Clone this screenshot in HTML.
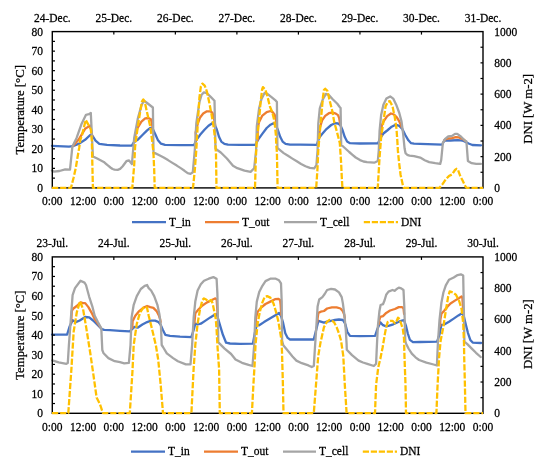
<!DOCTYPE html>
<html><head><meta charset="utf-8"><style>
html,body{margin:0;padding:0;background:#fff;overflow:hidden;}
svg{display:block;}
text{font-family:'Liberation Serif','Times New Roman',serif;font-size:11.5px;fill:#000;stroke:#000;stroke-width:0.25px;}
</style></head><body>
<svg width="550" height="475" viewBox="0 0 550 475">
<rect width="550" height="475" fill="#fff"/>
<polyline points="52.0,145.8 69.0,146.6 72.8,146.2 78.5,143.9 85.1,139.8 90.2,135.0 92.7,136.0 95.5,140.7 99.3,143.9 107.0,144.9 120.0,145.5 131.8,145.6 133.8,142.4 137.6,139.9 142.7,134.8 147.1,130.4 150.3,127.9 152.8,129.1 155.3,134.2 157.8,139.9 161.0,143.7 165.0,144.9 180.0,145.2 194.1,145.0 196.3,140.1 200.1,134.8 204.7,129.5 208.5,125.7 212.2,123.2 214.5,124.2 216.8,129.5 219.1,137.1 221.3,141.6 224.4,143.9 228.0,144.7 240.0,144.9 255.3,144.9 258.3,139.4 262.1,134.1 266.7,128.0 270.5,124.7 273.5,123.2 275.8,125.0 278.0,130.3 280.3,137.1 282.6,141.6 285.6,143.9 290.0,144.6 300.0,144.6 316.8,144.9 319.1,137.8 322.1,134.1 326.7,128.8 331.2,125.0 335.0,123.2 338.0,123.5 340.3,125.0 342.6,130.3 344.8,137.1 347.1,141.6 350.0,143.2 360.0,143.5 378.1,143.3 380.3,138.0 383.4,133.5 387.2,130.5 391.7,126.7 395.5,124.7 399.3,125.9 402.3,128.9 405.3,135.0 408.4,140.3 411.1,143.2 414.0,143.6 420.2,143.8 442.1,144.7 444.4,140.5 450.5,140.5 458.0,140.2 462.6,140.7 464.1,141.2 468.6,143.5 472.4,145.0 481.0,145.3" fill="none" stroke="#4472C4" stroke-width="2.3" stroke-linejoin="round" stroke-linecap="round"/>
<polyline points="72.8,146.2 78.5,139.8 85.1,128.8 90.2,125.6 91.5,131.0 92.3,137.0" fill="none" stroke="#ED7D31" stroke-width="2.3" stroke-linejoin="round" stroke-linecap="round"/>
<polyline points="134.6,141.5 135.7,132.9 137.6,127.9 141.4,121.6 145.2,118.4 148.4,118.0 150.9,119.3 152.0,124.0 152.8,129.0" fill="none" stroke="#ED7D31" stroke-width="2.3" stroke-linejoin="round" stroke-linecap="round"/>
<polyline points="196.3,140.1 195.6,132.5 197.8,123.5 200.1,117.4 203.2,113.6 206.9,111.3 210.0,111.3 212.2,112.5 213.5,115.9 214.5,121.0 215.2,125.0" fill="none" stroke="#ED7D31" stroke-width="2.3" stroke-linejoin="round" stroke-linecap="round"/>
<polyline points="257.8,140.0 257.6,128.0 259.1,121.9 262.1,115.9 266.7,112.1 270.5,111.0 272.7,112.1 274.5,114.4 275.8,118.9 276.6,125.0" fill="none" stroke="#ED7D31" stroke-width="2.3" stroke-linejoin="round" stroke-linecap="round"/>
<polyline points="319.3,137.0 319.8,128.0 322.1,120.4 325.2,115.9 328.9,113.2 332.7,112.5 335.8,113.6 338.0,115.1 339.2,118.2 340.2,124.0" fill="none" stroke="#ED7D31" stroke-width="2.3" stroke-linejoin="round" stroke-linecap="round"/>
<polyline points="380.8,137.0 381.8,125.2 384.1,120.6 387.2,116.1 390.9,113.5 394.0,114.5 397.0,117.6 399.3,121.4 400.8,124.7 401.6,127.0" fill="none" stroke="#ED7D31" stroke-width="2.3" stroke-linejoin="round" stroke-linecap="round"/>
<polyline points="444.4,140.5 444.6,139.7 447.4,138.5 452.0,138.2 455.8,137.1 458.8,137.4 462.6,138.9 464.8,140.5" fill="none" stroke="#ED7D31" stroke-width="2.3" stroke-linejoin="round" stroke-linecap="round"/>
<polyline points="52.0,170.5 53.8,171.6 59.5,171.0 65.2,169.3 70.0,169.7 72.4,146.4 76.6,137.9 81.3,124.6 86.0,114.8 88.9,114.2 90.8,112.9 92.9,156.4 97.2,158.6 100.5,160.2 103.8,161.9 106.0,163.8 108.2,165.7 110.4,167.5 112.6,169.0 114.5,169.6 117.7,169.8 120.1,168.9 122.5,166.5 124.9,163.2 126.8,160.8 129.1,160.5 130.5,162.2 131.9,164.0 134.2,138.0 137.8,118.6 141.5,105.3 143.9,100.7 145.8,102.0 152.9,107.5 153.5,153.5 155.0,153.1 159.4,155.2 163.7,157.5 168.0,160.1 172.4,162.9 176.8,165.6 181.1,168.4 184.5,170.8 187.7,173.2 190.5,173.9 192.8,172.3 194.8,150.0 196.3,123.5 199.4,102.2 201.6,94.7 203.9,92.4 206.9,93.2 210.7,96.9 214.5,100.7 215.5,148.8 220.8,152.5 226.9,158.5 233.0,165.8 237.3,168.2 244.5,170.6 250.6,171.9 254.2,168.2 256.1,150.0 256.8,126.5 259.1,108.3 261.4,99.2 264.4,93.2 267.4,93.9 271.2,96.9 275.8,100.7 276.9,102.0 277.4,147.6 278.2,148.7 283.7,153.1 288.0,155.8 292.4,158.6 296.8,161.3 301.1,164.0 305.5,166.2 309.9,167.9 314.2,168.4 316.4,165.1 317.6,150.0 318.3,123.5 319.8,108.3 322.9,99.2 325.9,93.9 328.9,95.0 332.7,99.2 337.3,103.8 339.5,106.8 340.6,108.0 341.2,145.2 342.6,146.0 345.9,149.0 349.2,152.0 352.5,154.8 355.7,157.5 360.0,160.1 363.5,161.5 367.0,162.2 374.2,162.7 377.8,161.0 378.8,150.0 379.6,130.5 381.1,115.3 383.4,104.7 386.4,98.6 390.2,96.4 393.2,98.6 396.2,104.7 399.3,113.0 401.5,121.4 403.1,133.5 404.6,148.6 405.5,153.1 407.2,154.8 409.5,155.6 414.1,156.1 420.2,157.6 424.7,160.2 429.2,162.1 435.3,163.2 440.2,163.9 441.2,160.0 442.9,142.7 445.2,138.9 448.2,136.4 452.0,135.9 455.0,133.9 457.3,133.9 461.1,136.7 464.8,140.5 466.4,141.2 467.9,160.9 471.7,163.2 476.2,163.9 480.9,163.9" fill="none" stroke="#A5A5A5" stroke-width="2.3" stroke-linejoin="round" stroke-linecap="round"/>
<rect x="52.3" y="31.6" width="430.7" height="156.3" fill="none" stroke="#000" stroke-width="1.4"/>
<line x1="52.3" y1="178.13" x2="55.0" y2="178.13" stroke="#000" stroke-width="1.2"/>
<line x1="52.3" y1="168.36" x2="55.0" y2="168.36" stroke="#000" stroke-width="1.2"/>
<line x1="52.3" y1="158.59" x2="55.0" y2="158.59" stroke="#000" stroke-width="1.2"/>
<line x1="52.3" y1="148.82" x2="55.0" y2="148.82" stroke="#000" stroke-width="1.2"/>
<line x1="52.3" y1="139.06" x2="55.0" y2="139.06" stroke="#000" stroke-width="1.2"/>
<line x1="52.3" y1="129.29" x2="55.0" y2="129.29" stroke="#000" stroke-width="1.2"/>
<line x1="52.3" y1="119.52" x2="55.0" y2="119.52" stroke="#000" stroke-width="1.2"/>
<line x1="52.3" y1="109.75" x2="55.0" y2="109.75" stroke="#000" stroke-width="1.2"/>
<line x1="52.3" y1="99.98" x2="55.0" y2="99.98" stroke="#000" stroke-width="1.2"/>
<line x1="52.3" y1="90.21" x2="55.0" y2="90.21" stroke="#000" stroke-width="1.2"/>
<line x1="52.3" y1="80.44" x2="55.0" y2="80.44" stroke="#000" stroke-width="1.2"/>
<line x1="52.3" y1="70.67" x2="55.0" y2="70.67" stroke="#000" stroke-width="1.2"/>
<line x1="52.3" y1="60.91" x2="55.0" y2="60.91" stroke="#000" stroke-width="1.2"/>
<line x1="52.3" y1="51.14" x2="55.0" y2="51.14" stroke="#000" stroke-width="1.2"/>
<line x1="52.3" y1="41.37" x2="55.0" y2="41.37" stroke="#000" stroke-width="1.2"/>
<line x1="483" y1="172.27" x2="480.5" y2="172.27" stroke="#000" stroke-width="1.2"/>
<line x1="483" y1="156.64" x2="480.5" y2="156.64" stroke="#000" stroke-width="1.2"/>
<line x1="483" y1="141.01" x2="480.5" y2="141.01" stroke="#000" stroke-width="1.2"/>
<line x1="483" y1="125.38" x2="480.5" y2="125.38" stroke="#000" stroke-width="1.2"/>
<line x1="483" y1="109.75" x2="480.5" y2="109.75" stroke="#000" stroke-width="1.2"/>
<line x1="483" y1="94.12" x2="480.5" y2="94.12" stroke="#000" stroke-width="1.2"/>
<line x1="483" y1="78.49" x2="480.5" y2="78.49" stroke="#000" stroke-width="1.2"/>
<line x1="483" y1="62.86" x2="480.5" y2="62.86" stroke="#000" stroke-width="1.2"/>
<line x1="483" y1="47.23" x2="480.5" y2="47.23" stroke="#000" stroke-width="1.2"/>
<line x1="113.83" y1="31.6" x2="113.83" y2="34.6" stroke="#000" stroke-width="1.2"/>
<line x1="175.36" y1="31.6" x2="175.36" y2="34.6" stroke="#000" stroke-width="1.2"/>
<line x1="236.89" y1="31.6" x2="236.89" y2="34.6" stroke="#000" stroke-width="1.2"/>
<line x1="298.41" y1="31.6" x2="298.41" y2="34.6" stroke="#000" stroke-width="1.2"/>
<line x1="359.94" y1="31.6" x2="359.94" y2="34.6" stroke="#000" stroke-width="1.2"/>
<line x1="421.47" y1="31.6" x2="421.47" y2="34.6" stroke="#000" stroke-width="1.2"/>
<polyline points="52.0,187.8 71.0,187.8 73.7,177.2 75.9,167.4 77.5,157.5 79.2,147.7 80.3,140.0 82.3,134.1 85.7,119.9 88.9,125.6 90.8,129.4 91.8,140.0 92.3,161.9 92.9,187.8 132.3,187.8 134.2,165.0 135.1,146.8 137.6,127.9 140.2,111.5 142.0,101.4 143.3,99.5 144.6,101.4 147.7,115.3 150.3,126.6 152.1,140.5 153.4,152.0 154.2,170.0 154.7,187.8 193.0,187.8 194.8,170.0 196.3,150.0 197.8,123.5 199.4,97.7 200.9,86.3 202.4,83.6 204.7,85.6 206.9,91.6 209.2,102.2 211.5,114.4 213.8,128.0 215.3,141.6 216.0,155.0 216.5,187.8 255.0,187.8 255.8,159.1 256.6,143.0 258.3,128.0 260.6,102.2 262.1,89.4 262.9,87.2 265.2,89.4 267.4,96.2 270.0,106.8 272.1,111.7 273.8,118.4 275.1,126.8 275.9,135.3 276.3,145.4 276.9,151.8 277.6,187.8 316.2,187.8 317.4,170.0 318.3,150.0 319.8,132.5 321.4,114.4 322.9,97.7 323.9,90.1 325.2,88.7 327.4,90.9 329.7,100.7 332.0,109.8 334.2,121.9 336.7,131.0 338.5,138.0 339.8,143.0 341.1,162.6 341.7,175.6 342.4,187.8 377.8,187.8 378.8,170.0 379.6,157.0 381.1,138.0 383.4,121.4 385.6,106.2 387.9,101.7 389.9,101.2 392.5,106.2 394.7,116.8 396.5,128.9 397.4,141.8 397.9,150.9 399.0,161.9 400.6,175.0 402.8,184.9 403.9,187.8 439.5,187.8 442.9,183.6 445.9,179.1 448.9,176.1 452.0,174.5 455.0,170.0 456.5,168.8 458.0,170.0 460.3,176.1 462.6,180.6 465.6,186.7 466.6,187.8 483.0,187.8" fill="none" stroke="#FFC000" stroke-width="2.3" stroke-dasharray="6.2 1.9" stroke-linejoin="round"/>
<text text-anchor="end" transform="translate(43,191.90) scale(1,1.05)">0</text>
<text text-anchor="end" transform="translate(43,172.36) scale(1,1.05)">10</text>
<text text-anchor="end" transform="translate(43,152.82) scale(1,1.05)">20</text>
<text text-anchor="end" transform="translate(43,133.29) scale(1,1.05)">30</text>
<text text-anchor="end" transform="translate(43,113.75) scale(1,1.05)">40</text>
<text text-anchor="end" transform="translate(43,94.21) scale(1,1.05)">50</text>
<text text-anchor="end" transform="translate(43,74.67) scale(1,1.05)">60</text>
<text text-anchor="end" transform="translate(43,55.14) scale(1,1.05)">70</text>
<text text-anchor="end" transform="translate(43,35.60) scale(1,1.05)">80</text>
<text transform="translate(494.2,191.90) scale(1,1.05)">0</text>
<text transform="translate(494.2,160.64) scale(1,1.05)">200</text>
<text transform="translate(494.2,129.38) scale(1,1.05)">400</text>
<text transform="translate(494.2,98.12) scale(1,1.05)">600</text>
<text transform="translate(494.2,66.86) scale(1,1.05)">800</text>
<text transform="translate(494.2,35.60) scale(1,1.05)">1000</text>
<text text-anchor="middle" transform="translate(52.30,204.60) scale(1,1.05)">0:00</text>
<text text-anchor="middle" transform="translate(83.06,204.60) scale(1,1.05)">12:00</text>
<text text-anchor="middle" transform="translate(113.83,204.60) scale(1,1.05)">0:00</text>
<text text-anchor="middle" transform="translate(144.59,204.60) scale(1,1.05)">12:00</text>
<text text-anchor="middle" transform="translate(175.36,204.60) scale(1,1.05)">0:00</text>
<text text-anchor="middle" transform="translate(206.12,204.60) scale(1,1.05)">12:00</text>
<text text-anchor="middle" transform="translate(236.89,204.60) scale(1,1.05)">0:00</text>
<text text-anchor="middle" transform="translate(267.65,204.60) scale(1,1.05)">12:00</text>
<text text-anchor="middle" transform="translate(298.41,204.60) scale(1,1.05)">0:00</text>
<text text-anchor="middle" transform="translate(329.18,204.60) scale(1,1.05)">12:00</text>
<text text-anchor="middle" transform="translate(359.94,204.60) scale(1,1.05)">0:00</text>
<text text-anchor="middle" transform="translate(390.71,204.60) scale(1,1.05)">12:00</text>
<text text-anchor="middle" transform="translate(421.47,204.60) scale(1,1.05)">0:00</text>
<text text-anchor="middle" transform="translate(452.24,204.60) scale(1,1.05)">12:00</text>
<text text-anchor="middle" transform="translate(483.00,204.60) scale(1,1.05)">0:00</text>
<text text-anchor="middle" transform="translate(52.30,21.80) scale(1,1.05)">24-Dec.</text>
<text text-anchor="middle" transform="translate(113.83,21.80) scale(1,1.05)">25-Dec.</text>
<text text-anchor="middle" transform="translate(175.36,21.80) scale(1,1.05)">26-Dec.</text>
<text text-anchor="middle" transform="translate(236.89,21.80) scale(1,1.05)">27-Dec.</text>
<text text-anchor="middle" transform="translate(298.41,21.80) scale(1,1.05)">28-Dec.</text>
<text text-anchor="middle" transform="translate(359.94,21.80) scale(1,1.05)">29-Dec.</text>
<text text-anchor="middle" transform="translate(421.47,21.80) scale(1,1.05)">30-Dec.</text>
<text text-anchor="middle" transform="translate(483.00,21.80) scale(1,1.05)">31-Dec.</text>
<text style="font-size:12.5px" transform="translate(23.9,154.50) rotate(-90) scale(1.02,1)">Temperature [°C]</text>
<text style="font-size:12.5px" transform="translate(532.0,143.70) rotate(-90) scale(1.02,1)">DNI [W m-2]</text>
<line x1="132" y1="222.20" x2="166" y2="222.20" stroke="#4472C4" stroke-width="2.3"/>
<text transform="translate(169,226.00) scale(1,1.05)">T_in</text>
<line x1="205" y1="222.20" x2="239" y2="222.20" stroke="#ED7D31" stroke-width="2.3"/>
<text transform="translate(242,226.00) scale(1,1.05)">T_out</text>
<line x1="284" y1="222.20" x2="317" y2="222.20" stroke="#A5A5A5" stroke-width="2.3"/>
<text transform="translate(320,226.00) scale(1,1.05)">T_cell</text>
<line x1="363.8" y1="222.20" x2="398" y2="222.20" stroke="#FFC000" stroke-width="2.3" stroke-dasharray="6.2 1.8"/>
<text transform="translate(401,226.00) scale(1,1.05)">DNI</text>
<polyline points="52.0,334.6 67.1,334.7 69.5,326.8 72.6,320.2 75.8,322.1 79.7,320.5 85.2,317.0 89.2,317.3 93.1,320.5 97.9,325.2 101.8,329.1 104.2,329.9 110.0,330.2 120.0,330.8 129.7,331.3 132.1,329.2 134.5,326.9 137.6,327.7 142.4,324.5 147.1,322.1 151.1,320.6 155.0,320.6 158.2,321.8 160.5,324.5 162.9,330.0 165.3,334.8 170.0,335.8 180.0,336.6 191.3,337.1 193.7,330.0 195.3,323.7 197.6,324.5 200.8,323.7 205.5,320.6 210.3,317.4 214.2,315.0 216.6,314.2 218.2,319.0 220.5,326.9 222.9,334.8 226.1,342.7 230.0,343.5 240.0,343.9 252.9,343.7 254.8,333.2 256.8,324.5 259.2,325.3 264.0,322.1 270.3,318.2 275.8,315.0 279.0,313.0 281.0,315.8 282.9,322.1 285.3,333.2 287.7,337.9 290.0,339.5 300.0,339.5 313.7,339.5 315.7,331.9 318.4,320.8 320.8,321.6 324.0,322.7 327.1,321.6 331.1,320.8 335.0,320.0 339.0,319.5 342.9,320.0 345.3,324.0 347.3,331.9 350.0,335.8 360.0,336.2 375.1,335.8 377.5,328.7 380.3,322.4 383.0,325.2 386.2,326.3 389.3,325.6 393.3,324.3 397.2,322.4 401.2,320.8 404.0,320.0 405.9,325.6 407.8,333.5 409.9,339.8 413.0,342.1 420.0,342.0 437.1,341.6 439.5,334.4 441.4,324.9 444.2,324.6 449.0,321.7 453.7,318.6 458.4,315.4 462.4,313.0 464.0,317.0 465.5,323.3 467.9,332.8 470.3,339.9 472.7,342.6 481.1,343.0" fill="none" stroke="#4472C4" stroke-width="2.3" stroke-linejoin="round" stroke-linecap="round"/>
<polyline points="71.2,322.0 71.8,311.0 73.4,308.5 77.4,305.5 80.5,302.3 82.9,303.1 85.2,303.1 88.4,307.1 91.5,312.6 94.7,318.9 97.9,323.6 100.2,326.8" fill="none" stroke="#ED7D31" stroke-width="2.3" stroke-linejoin="round" stroke-linecap="round"/>
<polyline points="132.3,328.0 132.6,321.3 135.3,315.8 139.2,311.1 143.2,307.9 147.1,306.0 150.3,307.1 153.4,307.9 156.6,311.1 159.0,315.8 160.1,319.0 160.6,322.0" fill="none" stroke="#ED7D31" stroke-width="2.3" stroke-linejoin="round" stroke-linecap="round"/>
<polyline points="194.3,323.0 194.5,322.1 195.3,313.4 198.4,309.5 202.4,305.5 207.1,302.4 211.9,300.0 215.0,298.4 216.6,299.2 217.1,306.3 217.6,314.0" fill="none" stroke="#ED7D31" stroke-width="2.3" stroke-linejoin="round" stroke-linecap="round"/>
<polyline points="255.6,325.0 256.1,317.4 257.6,311.9 260.8,307.9 265.5,304.0 270.3,301.6 275.0,299.2 278.2,298.8 280.1,300.0 280.7,305.5 281.0,311.1 281.2,315.0" fill="none" stroke="#ED7D31" stroke-width="2.3" stroke-linejoin="round" stroke-linecap="round"/>
<polyline points="317.3,322.0 317.6,318.4 318.4,312.9 320.8,311.7 324.0,311.0 327.1,308.5 331.9,307.4 336.6,307.4 340.5,308.5 342.9,311.3 344.2,314.5 344.8,318.0" fill="none" stroke="#ED7D31" stroke-width="2.3" stroke-linejoin="round" stroke-linecap="round"/>
<polyline points="378.9,324.0 379.1,320.8 380.3,316.9 383.0,316.1 386.2,312.9 390.1,310.5 394.9,309.0 398.8,307.1 402.0,307.1 403.5,308.2 404.1,314.0" fill="none" stroke="#ED7D31" stroke-width="2.3" stroke-linejoin="round" stroke-linecap="round"/>
<polyline points="440.1,326.0 440.3,320.1 441.4,313.8 444.2,310.7 447.4,306.7 450.5,303.5 455.3,300.4 459.2,298.0 461.6,296.4 462.4,298.0 462.9,305.9 463.2,312.0" fill="none" stroke="#ED7D31" stroke-width="2.3" stroke-linejoin="round" stroke-linecap="round"/>
<polyline points="52.3,360.4 58.7,362.3 66.4,363.8 67.8,363.0 68.9,345.0 72.6,295.2 75.0,288.1 80.5,280.7 84.5,282.6 86.0,285.0 89.2,296.8 92.3,306.3 94.7,315.7 97.9,322.1 101.3,328.4 102.3,350.0 103.6,353.3 108.4,358.1 114.7,361.2 120.0,362.2 124.2,363.4 128.9,362.8 130.5,345.0 131.6,317.4 133.7,304.8 136.8,296.1 140.8,289.0 144.7,285.8 147.1,285.0 148.7,288.2 151.1,290.5 154.2,296.1 157.4,304.8 159.4,314.2 161.0,326.9 161.7,345.0 163.0,347.0 166.8,353.3 173.1,358.1 177.9,361.2 185.8,364.4 190.5,364.4 192.1,345.0 193.7,317.4 195.3,301.6 197.6,290.5 200.8,284.2 204.0,280.7 208.7,278.7 213.4,277.1 216.6,278.7 217.4,293.7 218.3,342.3 219.1,343.1 224.6,348.6 231.1,354.0 235.5,359.5 242.0,362.8 248.6,364.9 252.5,366.0 254.2,345.0 255.3,317.4 256.8,301.6 259.2,292.1 262.4,285.8 265.5,281.1 270.3,278.7 275.8,278.7 279.0,280.3 281.0,283.4 281.7,301.6 282.1,340.7 283.3,345.3 288.7,351.8 292.5,356.5 296.4,360.6 301.8,363.2 308.4,365.4 311.7,367.1 313.8,366.0 314.8,350.0 316.1,330.3 317.6,306.6 319.2,299.5 322.4,297.1 324.7,294.0 327.1,290.0 331.1,288.9 335.0,289.5 339.0,292.4 341.7,297.1 342.9,303.4 344.5,316.1 345.8,330.3 346.6,343.9 346.8,349.7 352.0,355.1 358.6,360.6 363.0,362.5 367.3,363.8 373.9,366.0 376.1,363.8 376.7,350.0 377.8,327.1 379.4,311.3 380.6,305.0 383.0,304.2 384.6,300.3 386.2,294.7 388.5,291.6 392.5,290.0 394.9,290.8 396.4,289.2 398.8,287.6 401.2,288.4 403.5,290.0 404.3,306.6 405.3,340.7 406.0,343.6 408.5,348.5 411.8,353.6 415.5,357.3 419.1,360.0 426.4,362.7 433.6,364.5 436.9,365.5 437.9,343.0 439.5,320.1 441.4,302.8 443.4,292.5 445.8,285.4 449.0,279.8 453.7,277.5 457.6,275.1 460.8,274.3 463.2,275.6 463.5,291.7 464.4,341.5 467.6,344.4 471.8,348.6 476.0,352.8 480.7,357.0" fill="none" stroke="#A5A5A5" stroke-width="2.3" stroke-linejoin="round" stroke-linecap="round"/>
<rect x="52.3" y="256.9" width="430.7" height="156.40000000000003" fill="none" stroke="#000" stroke-width="1.4"/>
<line x1="52.3" y1="403.53" x2="55.0" y2="403.53" stroke="#000" stroke-width="1.2"/>
<line x1="52.3" y1="393.75" x2="55.0" y2="393.75" stroke="#000" stroke-width="1.2"/>
<line x1="52.3" y1="383.98" x2="55.0" y2="383.98" stroke="#000" stroke-width="1.2"/>
<line x1="52.3" y1="374.20" x2="55.0" y2="374.20" stroke="#000" stroke-width="1.2"/>
<line x1="52.3" y1="364.43" x2="55.0" y2="364.43" stroke="#000" stroke-width="1.2"/>
<line x1="52.3" y1="354.65" x2="55.0" y2="354.65" stroke="#000" stroke-width="1.2"/>
<line x1="52.3" y1="344.88" x2="55.0" y2="344.88" stroke="#000" stroke-width="1.2"/>
<line x1="52.3" y1="335.10" x2="55.0" y2="335.10" stroke="#000" stroke-width="1.2"/>
<line x1="52.3" y1="325.32" x2="55.0" y2="325.32" stroke="#000" stroke-width="1.2"/>
<line x1="52.3" y1="315.55" x2="55.0" y2="315.55" stroke="#000" stroke-width="1.2"/>
<line x1="52.3" y1="305.77" x2="55.0" y2="305.77" stroke="#000" stroke-width="1.2"/>
<line x1="52.3" y1="296.00" x2="55.0" y2="296.00" stroke="#000" stroke-width="1.2"/>
<line x1="52.3" y1="286.22" x2="55.0" y2="286.22" stroke="#000" stroke-width="1.2"/>
<line x1="52.3" y1="276.45" x2="55.0" y2="276.45" stroke="#000" stroke-width="1.2"/>
<line x1="52.3" y1="266.67" x2="55.0" y2="266.67" stroke="#000" stroke-width="1.2"/>
<line x1="483" y1="397.66" x2="480.5" y2="397.66" stroke="#000" stroke-width="1.2"/>
<line x1="483" y1="382.02" x2="480.5" y2="382.02" stroke="#000" stroke-width="1.2"/>
<line x1="483" y1="366.38" x2="480.5" y2="366.38" stroke="#000" stroke-width="1.2"/>
<line x1="483" y1="350.74" x2="480.5" y2="350.74" stroke="#000" stroke-width="1.2"/>
<line x1="483" y1="335.10" x2="480.5" y2="335.10" stroke="#000" stroke-width="1.2"/>
<line x1="483" y1="319.46" x2="480.5" y2="319.46" stroke="#000" stroke-width="1.2"/>
<line x1="483" y1="303.82" x2="480.5" y2="303.82" stroke="#000" stroke-width="1.2"/>
<line x1="483" y1="288.18" x2="480.5" y2="288.18" stroke="#000" stroke-width="1.2"/>
<line x1="483" y1="272.54" x2="480.5" y2="272.54" stroke="#000" stroke-width="1.2"/>
<line x1="113.83" y1="256.9" x2="113.83" y2="259.9" stroke="#000" stroke-width="1.2"/>
<line x1="175.36" y1="256.9" x2="175.36" y2="259.9" stroke="#000" stroke-width="1.2"/>
<line x1="236.89" y1="256.9" x2="236.89" y2="259.9" stroke="#000" stroke-width="1.2"/>
<line x1="298.41" y1="256.9" x2="298.41" y2="259.9" stroke="#000" stroke-width="1.2"/>
<line x1="359.94" y1="256.9" x2="359.94" y2="259.9" stroke="#000" stroke-width="1.2"/>
<line x1="421.47" y1="256.9" x2="421.47" y2="259.9" stroke="#000" stroke-width="1.2"/>
<polyline points="52.0,413.2 68.3,413.2 71.4,369.1 73.7,331.2 76.8,312.3 80.0,301.3 83.1,309.2 86.3,328.1 90.3,353.3 93.5,375.4 96.6,397.5 99.8,403.8 103.0,413.2 129.8,413.2 132.4,372.3 133.7,345.0 136.8,323.7 140.0,312.7 143.2,307.9 145.2,306.5 147.1,307.9 148.7,315.8 151.1,325.3 153.4,334.8 155.8,345.0 158.2,359.6 160.7,384.9 163.0,413.2 191.4,413.2 193.6,369.1 195.3,345.0 197.6,323.7 200.0,309.5 202.4,300.0 204.0,298.4 205.5,299.2 208.7,301.6 211.1,300.0 212.6,303.2 214.2,311.1 215.8,319.0 216.6,330.0 217.4,345.0 219.1,369.1 219.8,413.2 251.9,413.2 253.4,384.6 254.6,365.0 255.5,345.0 257.6,323.7 260.0,311.1 262.4,302.4 264.7,296.9 267.1,296.1 270.3,297.6 273.4,303.2 275.8,311.1 278.2,320.6 280.1,331.6 281.4,340.0 282.0,351.8 282.9,384.6 283.5,413.2 313.8,413.2 316.0,384.6 318.2,356.2 320.4,343.1 322.2,335.0 324.0,327.1 327.1,321.6 329.5,320.0 331.9,320.5 334.2,322.4 336.6,327.1 339.0,333.5 341.1,340.9 343.3,356.2 344.8,384.6 346.6,413.2 375.0,413.2 376.1,384.6 378.3,367.1 380.4,358.4 382.6,347.5 384.8,334.4 386.2,327.1 387.7,322.1 390.1,320.8 392.5,320.8 394.9,323.2 396.4,321.6 398.0,317.7 399.6,319.2 401.2,324.0 402.8,328.7 404.0,338.2 404.5,357.3 405.5,384.5 406.0,413.2 436.4,413.2 437.6,384.5 439.1,357.3 440.6,341.0 443.4,326.5 445.8,310.7 448.2,296.4 449.7,291.4 452.9,292.5 456.1,294.9 459.2,301.2 461.6,309.1 463.2,323.3 464.0,343.0 464.2,357.3 464.9,384.5 465.5,413.2 483.0,413.2" fill="none" stroke="#FFC000" stroke-width="2.3" stroke-dasharray="6.2 1.9" stroke-linejoin="round"/>
<text text-anchor="end" transform="translate(43,417.30) scale(1,1.05)">0</text>
<text text-anchor="end" transform="translate(43,397.75) scale(1,1.05)">10</text>
<text text-anchor="end" transform="translate(43,378.20) scale(1,1.05)">20</text>
<text text-anchor="end" transform="translate(43,358.65) scale(1,1.05)">30</text>
<text text-anchor="end" transform="translate(43,339.10) scale(1,1.05)">40</text>
<text text-anchor="end" transform="translate(43,319.55) scale(1,1.05)">50</text>
<text text-anchor="end" transform="translate(43,300.00) scale(1,1.05)">60</text>
<text text-anchor="end" transform="translate(43,280.45) scale(1,1.05)">70</text>
<text text-anchor="end" transform="translate(43,260.90) scale(1,1.05)">80</text>
<text transform="translate(494.2,417.30) scale(1,1.05)">0</text>
<text transform="translate(494.2,386.02) scale(1,1.05)">200</text>
<text transform="translate(494.2,354.74) scale(1,1.05)">400</text>
<text transform="translate(494.2,323.46) scale(1,1.05)">600</text>
<text transform="translate(494.2,292.18) scale(1,1.05)">800</text>
<text transform="translate(494.2,260.90) scale(1,1.05)">1000</text>
<text text-anchor="middle" transform="translate(52.30,430.80) scale(1,1.05)">0:00</text>
<text text-anchor="middle" transform="translate(83.06,430.80) scale(1,1.05)">12:00</text>
<text text-anchor="middle" transform="translate(113.83,430.80) scale(1,1.05)">0:00</text>
<text text-anchor="middle" transform="translate(144.59,430.80) scale(1,1.05)">12:00</text>
<text text-anchor="middle" transform="translate(175.36,430.80) scale(1,1.05)">0:00</text>
<text text-anchor="middle" transform="translate(206.12,430.80) scale(1,1.05)">12:00</text>
<text text-anchor="middle" transform="translate(236.89,430.80) scale(1,1.05)">0:00</text>
<text text-anchor="middle" transform="translate(267.65,430.80) scale(1,1.05)">12:00</text>
<text text-anchor="middle" transform="translate(298.41,430.80) scale(1,1.05)">0:00</text>
<text text-anchor="middle" transform="translate(329.18,430.80) scale(1,1.05)">12:00</text>
<text text-anchor="middle" transform="translate(359.94,430.80) scale(1,1.05)">0:00</text>
<text text-anchor="middle" transform="translate(390.71,430.80) scale(1,1.05)">12:00</text>
<text text-anchor="middle" transform="translate(421.47,430.80) scale(1,1.05)">0:00</text>
<text text-anchor="middle" transform="translate(452.24,430.80) scale(1,1.05)">12:00</text>
<text text-anchor="middle" transform="translate(483.00,430.80) scale(1,1.05)">0:00</text>
<text text-anchor="middle" transform="translate(52.30,246.90) scale(1,1.05)">23-Jul.</text>
<text text-anchor="middle" transform="translate(113.83,246.90) scale(1,1.05)">24-Jul.</text>
<text text-anchor="middle" transform="translate(175.36,246.90) scale(1,1.05)">25-Jul.</text>
<text text-anchor="middle" transform="translate(236.89,246.90) scale(1,1.05)">26-Jul.</text>
<text text-anchor="middle" transform="translate(298.41,246.90) scale(1,1.05)">27-Jul.</text>
<text text-anchor="middle" transform="translate(359.94,246.90) scale(1,1.05)">28-Jul.</text>
<text text-anchor="middle" transform="translate(421.47,246.90) scale(1,1.05)">29-Jul.</text>
<text text-anchor="middle" transform="translate(483.00,246.90) scale(1,1.05)">30-Jul.</text>
<text style="font-size:12.5px" transform="translate(23.9,379.80) rotate(-90) scale(1.02,1)">Temperature [°C]</text>
<text style="font-size:12.5px" transform="translate(532.0,369.00) rotate(-90) scale(1.02,1)">DNI [W m-2]</text>
<line x1="131" y1="451.60" x2="165" y2="451.60" stroke="#4472C4" stroke-width="2.3"/>
<text transform="translate(168,455.40) scale(1,1.05)">T_in</text>
<line x1="204" y1="451.60" x2="238" y2="451.60" stroke="#ED7D31" stroke-width="2.3"/>
<text transform="translate(241,455.40) scale(1,1.05)">T_out</text>
<line x1="283" y1="451.60" x2="316" y2="451.60" stroke="#A5A5A5" stroke-width="2.3"/>
<text transform="translate(319,455.40) scale(1,1.05)">T_cell</text>
<line x1="362.8" y1="451.60" x2="397" y2="451.60" stroke="#FFC000" stroke-width="2.3" stroke-dasharray="6.2 1.8"/>
<text transform="translate(400,455.40) scale(1,1.05)">DNI</text>
</svg>
</body></html>
